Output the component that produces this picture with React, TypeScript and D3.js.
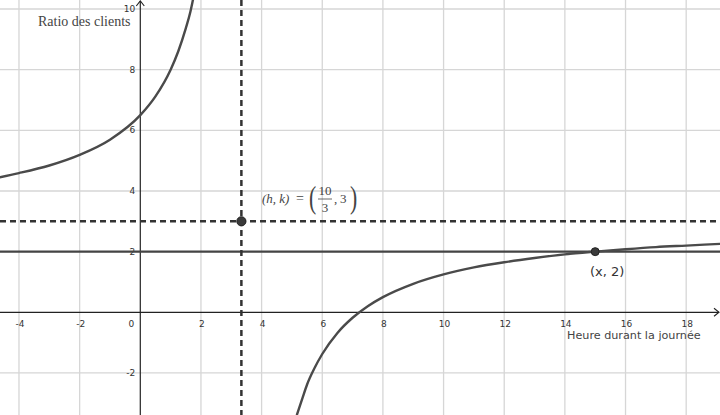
import * as d3 from 'd3';

const leftX = [-4.65, -4, -3, -2, -1, 0, 0.5, 1, 1.25, 1.5, 1.65, 1.75];
const leftY = [4.45, 4.59, 4.84, 5.19, 5.69, 6.5, 7.12, 8.0, 8.6, 9.36, 9.9, 10.37];
const rightX = [5.16, 5.35, 5.5, 5.75, 6, 6.5, 7, 7.5, 8, 9, 10, 11, 12, 13, 14, 15, 16, 17, 18, 19.2];
const rightY = [-3.39, -2.82, -2.38, -1.83, -1.375, -0.68, -0.18, 0.2, 0.5, 0.94, 1.25, 1.48, 1.65, 1.79, 1.91, 2.0, 2.08, 2.15, 2.2, 2.26];

const xTicks = [-4, -2, 0, 2, 4, 6, 8, 10, 12, 14, 16, 18];
const yTicks = [-2, 2, 4, 6, 8, 10];
const gridX = [-4, -2, 2, 4, 6, 8, 10, 12, 14, 16, 18];
const gridY = [-2, 2, 4, 6, 8, 10];

const asymptoteX = 10 / 3;
const asymptoteY = 3;
const levelY = 2;
const crossPoint = { x: 15, y: 2 };

const W = 720;
const H = 415;

export default function App() {
  const x = d3.scaleLinear().domain([-4.626, 19.115]).range([0, W]);
  const y = d3.scaleLinear().domain([10.297, -3.386]).range([0, H]);

  const line = d3
    .line<[number, number]>()
    .x((d) => x(d[0]))
    .y((d) => y(d[1]))
    .curve(d3.curveMonotoneX);

  const left = leftX.map((v, i) => [v, leftY[i]] as [number, number]);
  const right = rightX.map((v, i) => [v, rightY[i]] as [number, number]);

  const x0 = x(0);
  const y0 = y(0);
  const ink = '#333';
  const tickFont = 'DejaVu Sans, sans-serif';

  return (
    <svg
      width={W}
      height={H}
      style={{ position: 'absolute', left: 0, top: 0, background: '#fff' }}
    >
      <rect width={W} height={H} fill="#fff" />
      <defs>
        <clipPath id="plot">
          <rect width={W} height={H} />
        </clipPath>
      </defs>

      {/* grid */}
      {gridX.map((t) => (
        <line key={`gx${t}`} x1={x(t)} x2={x(t)} y1={0} y2={H} stroke="#d6d6d6" strokeWidth={1.3} />
      ))}
      {gridY.map((t) => (
        <line key={`gy${t}`} x1={0} x2={W} y1={y(t)} y2={y(t)} stroke="#d6d6d6" strokeWidth={1.3} />
      ))}

      {/* axes */}
      <line x1={0} x2={W - 1} y1={y0} y2={y0} stroke="#222" strokeWidth={1.2} />
      <line x1={x0} x2={x0} y1={1} y2={H} stroke="#222" strokeWidth={1.2} />
      <path d={`M${W - 6},${y0 - 4}L${W - 1},${y0}L${W - 6},${y0 + 4}`} fill="none" stroke="#222" strokeWidth={1.1} />
      <path d={`M${x0 - 4},${6}L${x0},${1}L${x0 + 4},${6}`} fill="none" stroke="#222" strokeWidth={1.1} />

      {/* tick labels */}
      {xTicks.map((t) => (
        <text
          key={`xt${t}`}
          x={t === 0 ? x0 - 9 : x(t) + 1}
          y={y0 + 15}
          textAnchor="middle"
          fontFamily={tickFont}
          fontSize={9}
          fill={ink}
        >
          {t}
        </text>
      ))}
      {yTicks.map((t) => (
        <text
          key={`yt${t}`}
          x={x0 - 5}
          y={y(t) + 3}
          textAnchor="end"
          fontFamily={tickFont}
          fontSize={9}
          fill={ink}
        >
          {t}
        </text>
      ))}

      {/* asymptotes and level line */}
      <line x1={0} x2={W} y1={y(levelY)} y2={y(levelY)} stroke="#444" strokeWidth={2.4} />
      <line x1={0} x2={W} y1={y(asymptoteY)} y2={y(asymptoteY)} stroke="#333" strokeWidth={2.5} strokeDasharray="6,4" />
      <line x1={x(asymptoteX)} x2={x(asymptoteX)} y1={0} y2={H} stroke="#333" strokeWidth={2.5} strokeDasharray="6,4" />

      {/* curve branches */}
      <g clipPath="url(#plot)">
        <path d={line(left) ?? ''} fill="none" stroke="#4a4a4a" strokeWidth={2.4} />
        <path d={line(right) ?? ''} fill="none" stroke="#4a4a4a" strokeWidth={2.4} />
      </g>

      {/* points */}
      <circle cx={x(asymptoteX)} cy={y(asymptoteY)} r={4.6} fill="#3a3a3a" stroke="#222" strokeWidth={1} />
      <circle cx={x(crossPoint.x)} cy={y(crossPoint.y)} r={4} fill="#3a3a3a" stroke="#222" strokeWidth={1} />

      {/* labels */}
      <text x={38} y={26} fontFamily="Liberation Serif, serif" fontSize={14} fill="#444">
        Ratio des clients
      </text>
      <text x={567} y={339} fontFamily="DejaVu Sans, sans-serif" fontSize={11.2} fill="#444">
        Heure durant la journée
      </text>
      <text x={590} y={276} fontFamily="DejaVu Sans, sans-serif" fontSize={13} fill="#333">
        (x, 2)
      </text>

      {/* (h, k) = (10/3, 3) */}
      <g fontFamily="Liberation Serif, serif" fill="#444">
        <text x={262} y={203} fontSize={13} fontStyle="italic">
          (h, k)
        </text>
        <text x={296} y={203} fontSize={14}>=</text>
        <text x={309} y={208} fontSize={31} transform="translate(309,208) scale(0.7,1) translate(-309,-208)">
          (
        </text>
        <text x={325} y={195} fontSize={13} textAnchor="middle">10</text>
        <line x1={318} x2={332} y1={199} y2={199} stroke="#444" strokeWidth={0.8} />
        <text x={325} y={211.5} fontSize={13} textAnchor="middle">3</text>
        <text x={334} y={203} fontSize={13}>,</text>
        <text x={340} y={203} fontSize={13}>3</text>
        <text x={350} y={208} fontSize={31} transform="translate(350,208) scale(0.7,1) translate(-350,-208)">
          )
        </text>
      </g>
    </svg>
  );
}
